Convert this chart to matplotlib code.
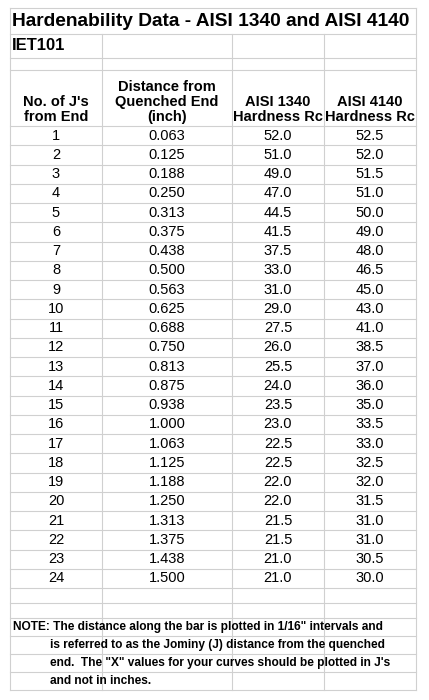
import matplotlib.pyplot as plt

plt.rcParams['font.family'] = ['Liberation Sans', 'DejaVu Sans']

# Datos de la tabla
jotas = list(range(1, 25))
distancia = ["0.063", "0.125", "0.188", "0.250", "0.313", "0.375", "0.438", "0.500",
             "0.563", "0.625", "0.688", "0.750", "0.813", "0.875", "0.938", "1.000",
             "1.063", "1.125", "1.188", "1.250", "1.313", "1.375", "1.438", "1.500"]
aisi_1340 = [52.0, 51.0, 49.0, 47.0, 44.5, 41.5, 37.5, 33.0, 31.0, 29.0, 27.5, 26.0,
             25.5, 24.0, 23.5, 23.0, 22.5, 22.5, 22.0, 22.0, 21.5, 21.5, 21.0, 21.0]
aisi_4140 = [52.5, 52.0, 51.5, 51.0, 50.0, 49.0, 48.0, 46.5, 45.0, 43.0, 41.0, 38.5,
             37.0, 36.0, 35.0, 33.5, 33.0, 32.5, 32.0, 31.5, 31.0, 31.0, 30.5, 30.0]
encabezados = ["No. of J's\nfrom End", "Distance from\nQuenched End\n(inch)",
               "AISI 1340\nHardness Rc", "AISI 4140\nHardness Rc"]
titulo = "Hardenability Data - AISI 1340 and AISI 4140"
subtitulo = "IET101"
nota = ['NOTE: The distance along the bar is plotted in 1/16" intervals and',
        'is referred to as the Jominy (J) distance from the quenched',
        'end.  The "X" values for your curves should be plotted in J\'s',
        'and not in inches.']

fig = plt.figure(figsize=(4.29, 7), dpi=100)
ax = fig.add_axes([0, 0, 1, 1])
ax.set_xlim(0, 429)
ax.set_ylim(700, 0)
ax.axis('off')

cols = [10, 102, 232, 324, 416]
centros = [(cols[i] + cols[i + 1]) / 2 for i in range(4)]
gris = '#d0d0d0'

# Filas (bordes horizontales)
fila_h = 19.25
filas = [8, 34, 58, 70, 126] + [126 + fila_h * (i + 1) for i in range(24)]
fin_datos = filas[-1]
filas += [fin_datos + 15, fin_datos + 30]
nota_top = filas[-1]
nota_h = 18
filas += [nota_top + nota_h * (i + 1) for i in range(4)]

for y in filas:
    ax.plot([cols[0], cols[-1]], [y, y], color=gris, lw=0.8)
for i, x in enumerate(cols):
    if i in (0, len(cols) - 1):
        ax.plot([x, x], [filas[0], filas[-1]], color=gris, lw=0.8)
    else:
        ax.plot([x, x], [filas[1], filas[-1]], color=gris, lw=0.8)

# Titulo
ax.text(12, 22, titulo, fontsize=13.8, fontweight='bold', va='center', ha='left')
ax.text(12, 46, subtitulo, fontsize=12, fontweight='bold', va='center', ha='left')

# Encabezados
for c, h in zip(centros, encabezados):
    ax.text(c, 124, h, fontsize=10.5, fontweight='bold', ha='center', va='bottom',
            linespacing=1.1)

# Datos
for i in range(24):
    y = 126 + fila_h * (i + 0.5)
    vals = [str(jotas[i]), distancia[i], f"{aisi_1340[i]:.1f}", f"{aisi_4140[i]:.1f}"]
    for c, v in zip(centros, vals):
        ax.text(c, y, v, fontsize=10.5, ha='center', va='center')

# Nota
for i, linea in enumerate(nota):
    x = 13 if i == 0 else 50
    ax.text(x, nota_top + nota_h * (i + 0.5), linea, fontsize=8.6,
            fontweight='bold', ha='left', va='center')

fig.savefig('out.png', dpi=100)
